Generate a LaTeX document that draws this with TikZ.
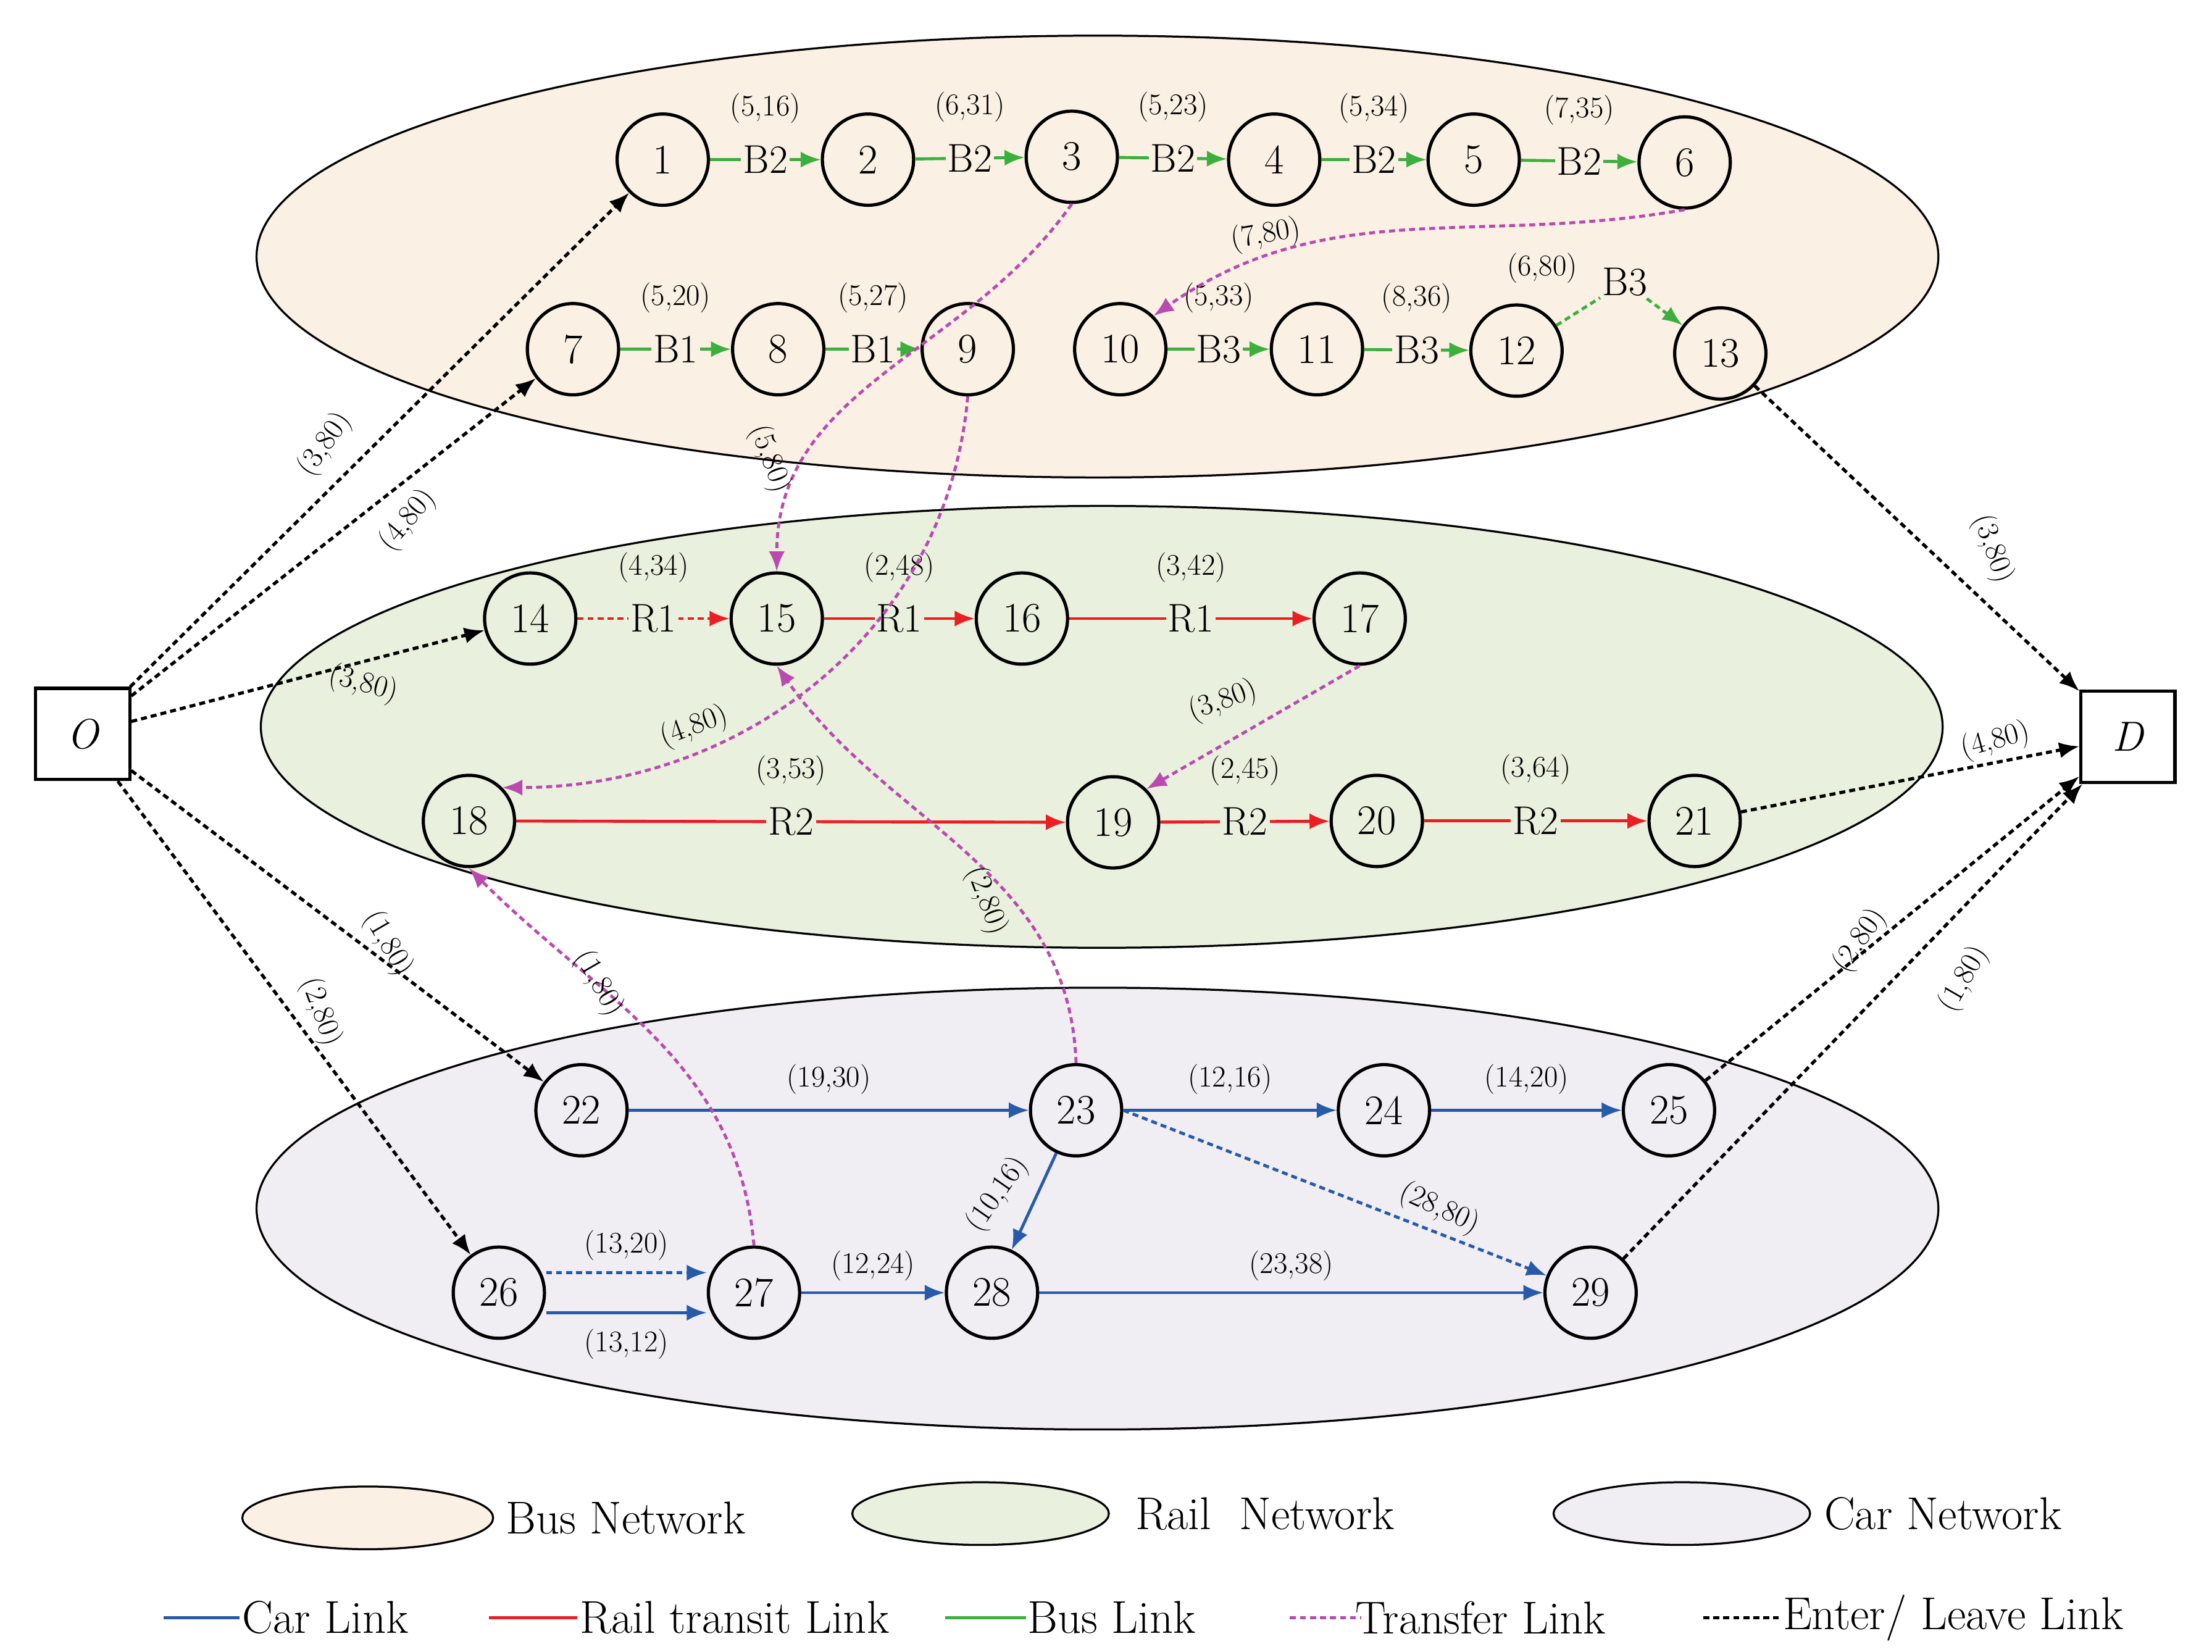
\documentclass[tikz,border=0pt]{standalone}
\usetikzlibrary{arrows.meta}
\definecolor{busf}{RGB}{250,240,228}
\definecolor{railf}{RGB}{234,240,222}
\definecolor{carf}{RGB}{240,238,242}
\definecolor{gr}{RGB}{60,175,60}
\definecolor{rd}{RGB}{235,30,35}
\definecolor{bl}{RGB}{40,90,170}
\definecolor{mg}{RGB}{185,75,175}
\begin{document}
\begin{tikzpicture}[x=0.025cm,y=-0.025cm,
 n/.style={circle,draw,line width=1.6pt,minimum size=1.6cm,inner sep=0pt,font=\fontsize{21}{24}\selectfont},
 bx/.style={draw,line width=1.6pt,minimum width=1.65cm,minimum height=1.6cm,font=\fontsize{21}{24}\selectfont\itshape},
 lb/.style={font=\fontsize{15}{17}\selectfont,text=black},
 tg/.style={font=\fontsize{20}{22}\selectfont,inner sep=1pt,text=black},
 ar/.style={-{Latex[length=10pt,width=8pt]}},
 bus/.style={ar,draw=gr,line width=1.5pt},
 rail/.style={ar,draw=rd,line width=1.5pt},
 car/.style={ar,draw=bl,line width=1.5pt},
 tr/.style={ar,draw=mg,line width=1.5pt,dash pattern=on 3pt off 2pt},
 el/.style={ar,draw=black,line width=1.6pt,dash pattern=on 3pt off 2pt},
 lg/.style={font=\fontsize{23}{26}\selectfont,anchor=west}]
\useasboundingbox (0,0) rectangle (1552,1159);
\draw[fill=busf,line width=1pt] (770,180) ellipse (590 and 155);
\draw[fill=railf,line width=1pt] (773,510) ellipse (590 and 155);
\draw[fill=carf,line width=1pt] (770,848) ellipse (590 and 155);
\foreach \i/\x/\y in {1/465/112,2/609/112,3/752/110,4/894/112,5/1034/112,6/1182/114,7/402/245,8/546/245,9/679/245,10/786/245,11/924/245,12/1064/246,13/1207/248,14/372/434,15/545/434,16/717/434,17/954/434,18/329/576,19/781/577,20/966/576,21/1189/576,22/408/779,23/755/779,24/971/779,25/1171/779,26/350/907,27/529/907,28/696/907,29/1116/907}
 \node[n] (\i) at (\x,\y) {\i};
\node[bx] (O) at (58,515) {O};
\node[bx] (D) at (1493,517) {D};
% bus
\foreach \a/\b/\t/\l in {1/2/B2/{(5,16)},2/3/B2/{(6,31)},3/4/B2/{(5,23)},4/5/B2/{(5,34)},5/6/B2/{(7,35)},7/8/B1/{(5,20)},8/9/B1/{(5,27)},10/11/B3/{(5,33)},11/12/B3/{(8,36)}}
 \draw[bus] (\a) -- node[tg,fill=busf] {\t} node[lb,above=14pt] {\l} (\b);
\node[tg] (b3) at (1140,198) {B3};
\node[lb] at (1082,188) {(6,80)};
\draw[gr,line width=1.5pt,dash pattern=on 3pt off 2pt] (12) -- (b3);
\draw[bus,dash pattern=on 3pt off 2pt] (b3) -- (13);
% rail
\draw[rd,line width=1.5pt,dash pattern=on 3pt off 2pt,ar] (14) -- node[tg,fill=railf,solid] {R1} node[lb,above=14pt] {(4,34)} (15);
\foreach \a/\b/\t/\l in {15/16/R1/{(2,48)},16/17/R1/{(3,42)},18/19/R2/{(3,53)},19/20/R2/{(2,45)},20/21/R2/{(3,64)}}
 \draw[rail] (\a) -- node[tg,fill=railf] {\t} node[lb,above=14pt] {\l} (\b);
% car
\draw[car] (22) -- node[lb,above=4pt] {(19,30)} (23);
\draw[car] (23.east) -- node[lb,above=4pt] {(12,16)} (24);
\draw[car] (24) -- node[lb,above=4pt] {(14,20)} (25);
\draw[car] (23) -- (28);
\node[lb,rotate=55] at (700,838) {(10,16)};
\draw[car,dash pattern=on 3pt off 2pt] (23.east) -- (29);
\node[lb,rotate=-25] at (1010,848) {(28,80)};
\draw[car,dash pattern=on 3pt off 2pt] ([yshift=10pt]26.east) -- node[lb,above=2pt] {(13,20)} ([yshift=10pt]27.west);
\draw[car] ([yshift=-10pt]26.east) -- node[lb,below=4pt] {(13,12)} ([yshift=-10pt]27.west);
\draw[car] (27) -- node[lb,above=2pt] {(12,24)} (28);
\draw[car] (28) -- node[lb,above=2pt] {(23,38)} (29);
% transfers
\draw[tr] (3.south) to[out=-125,in=90] (15.north);
\node[lb,rotate=-70] at (540,322) {(5,80)};
\draw[tr] (6.south) to[out=-170,in=35] (10.north east);
\node[lb,rotate=10] at (888,165) {(7,80)};
\draw[tr] (9.south) to[out=-95,in=0] (18.north east);
\node[lb,rotate=20] at (487,510) {(4,80)};
\draw[tr] (17.south) -- (19.north east);
\node[lb,rotate=20] at (858,492) {(3,80)};
\draw[tr] (23.north) to[out=92,in=-55] (15.south);
\node[lb,rotate=-70] at (692,632) {(2,80)};
\draw[tr] (27.north) to[out=95,in=-45] (18.south);
\node[lb,rotate=-60] at (420,690) {(1,80)};
% enter / leave
\draw[el] (O) -- (1); \node[lb,rotate=55] at (228,312) {(3,80)};
\draw[el] (O) -- (7); \node[lb,rotate=50] at (286,365) {(4,80)};
\draw[el] (O) -- (14); \node[lb,rotate=-15] at (255,480) {(3,80)};
\draw[el] (O) -- (22); \node[lb,rotate=-60] at (272,662) {(1,80)};
\draw[el] (O) -- (26); \node[lb,rotate=-70] at (225,710) {(2,80)};
\draw[el] (13) -- (D); \node[lb,rotate=-70] at (1398,385) {(3,80)};
\draw[el] (21) -- (D); \node[lb,rotate=15] at (1400,520) {(4,80)};
\draw[el] (25) -- (D); \node[lb,rotate=55] at (1305,660) {(2,80)};
\draw[el] (29) -- (D); \node[lb,rotate=60] at (1378,687) {(1,80)};
% legend
\draw[fill=busf,line width=1pt] (258,1065) ellipse (88 and 22);
\node[lg] at (350,1065) {Bus Network};
\draw[fill=railf,line width=1pt] (688,1062) ellipse (90 and 22);
\node[lg] at (792,1062) {Rail~ Network};
\draw[fill=carf,line width=1pt] (1180,1062) ellipse (90 and 22);
\node[lg] at (1275,1062) {Car Network};
\draw[bl,line width=1.5pt] (115,1135) -- (168,1135); \node[lg] at (165,1135) {Car Link};
\draw[rd,line width=1.5pt] (343,1135) -- (405,1135); \node[lg] at (402,1135) {Rail transit Link};
\draw[gr,line width=1.5pt] (663,1135) -- (720,1135); \node[lg] at (716,1135) {Bus Link};
\draw[mg,line width=1.5pt,dash pattern=on 3pt off 2pt] (905,1135) -- (955,1135); \node[lg] at (946,1135) {Transfer Link};
\draw[black,line width=1.5pt,dash pattern=on 3pt off 2pt] (1195,1135) -- (1248,1135); \node[lg] at (1246,1135) {Enter/ Leave Link};
\end{tikzpicture}
\end{document}
